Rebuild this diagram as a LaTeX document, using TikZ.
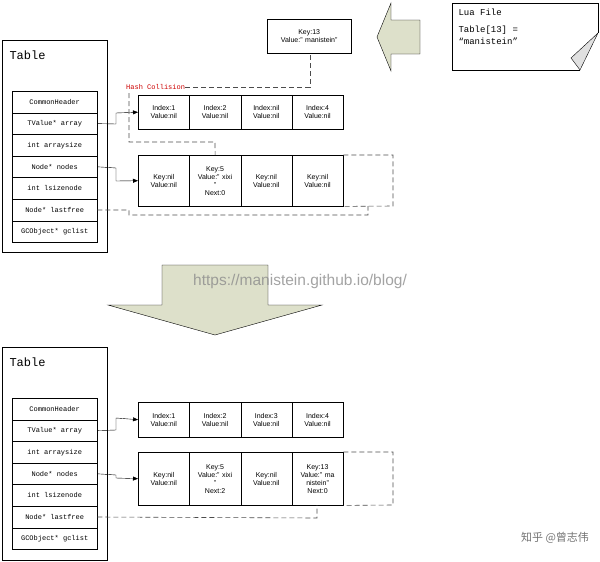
\documentclass[tikz,border=0pt]{standalone}
\usepackage{fontspec}
\setmainfont{Liberation Sans}
\newfontfamily\cjkf{Noto Sans CJK SC}
\newfontfamily\monof{Liberation Mono}
\usetikzlibrary{arrows.meta}
\definecolor{arrfill}{RGB}{221,224,202}
\begin{document}
\begin{tikzpicture}[x=1pt,y=-1pt,
  fld/.style={draw,minimum width=85pt,minimum height=21.6pt,anchor=north west,inner sep=0pt,font=\monof\fontsize{7}{8}\selectfont},
  cell/.style={draw,anchor=north west,inner sep=0pt,align=center,font=\fontsize{7}{8}\selectfont},
  dsh/.style={draw=black!70,dashed,dash pattern=on 5pt off 3pt,semithick},
  con/.style={-{Triangle[length=5pt,width=4pt]}}]
\useasboundingbox (0,0) rectangle (600,562);
% Lua file
\node[anchor=north west,align=left,font=\monof\fontsize{9}{12}\selectfont] (luat) at (455,5) {Lua File\\[5pt]Table[13] =\\ “manistein”};
\draw (452,3) -- (598,3) -- (598,33) (452,3) -- (452,70) -- (580,70);
\draw[fill=black!12] (598,33) -- (571,58) -- (580,70) -- cycle;
% left arrow
\draw[fill=arrfill] (377,37) -- (391,3) -- (391,20) -- (420,20) -- (420,54) -- (391,54) -- (391,71) -- cycle;
% key13 box
\node[cell,minimum width=84pt,minimum height=34pt] (k13) at (267,19) {Key:13\\Value:” manistein”};
% ---------- top
\node[draw,minimum width=105pt,minimum height=212pt,anchor=north west] (t1) at (2,40) {};
\node[anchor=west,font=\monof\fontsize{12}{13}\selectfont] (t1l) at (6,55) {Table};
\foreach \i/\t in {0/CommonHeader,1/TValue* array,2/int arraysize,3/Node* nodes,4/int lsizenode,5/Node* lastfree,6/GCObject* gclist}
  \node[fld] (a\i) at (12,{91+21.6*\i}) {\t};
\foreach \i/\t in {0/{Index:1\\Value:nil},1/{Index:2\\Value:nil},2/{Index:nil\\Value:nil},3/{Index:4\\Value:nil}}
  \node[cell,minimum width=51.25pt,minimum height=34pt] (ar\i) at ({138+51.25*\i},95) {\t};
\foreach \i/\t in {0/{Key:nil\\Value:nil},1/{Key:5\\Value:” xixi\\”\\Next:0},2/{Key:nil\\Value:nil},3/{Key:nil\\Value:nil}}
  \node[cell,minimum width=51.25pt,minimum height=51pt] (nd\i) at ({138+51.25*\i},155) {\t};
\draw[dsh] (nd3.north east) -- (393,155) -- (393,206) -- (nd3.south east);
\draw[con] (a1.east) -- (116,124) -- (116,113) -- (ar0.west);
\draw[con] (a3.east) -- (116,168) -- (116,181) -- (nd0.west);
\draw[dsh] (a5.east) -- (129,210) -- (129,215) -- (368,215) -- (368,206);
\node[anchor=west,text=red!80!black,font=\monof\fontsize{7}{8}\selectfont,inner sep=0pt] (hc) at (126,87) {Hash Collision};
\draw[dsh] (hc.east) -- (310,87) -- (k13.south -| 310,0);
\draw[dsh] (129,93) -- (129,142) -- (215,142) -- (nd1.north);
% down arrow
\draw[fill=arrfill] (162,265) -- (268,265) -- (268,305) -- (322,305) -- (215,335) -- (108,305) -- (162,305) -- cycle;
\node[text=black!45,font=\fontsize{15.5}{16}\selectfont,opacity=0.8] (url) at (300,281) {https://manistein.github.io/blog/};
% ---------- bottom
\node[draw,minimum width=105pt,minimum height=213pt,anchor=north west] (t2) at (2,347) {};
\node[anchor=west,font=\monof\fontsize{12}{13}\selectfont] (t2l) at (6,362) {Table};
\foreach \i/\t in {0/CommonHeader,1/TValue* array,2/int arraysize,3/Node* nodes,4/int lsizenode,5/Node* lastfree,6/GCObject* gclist}
  \node[fld] (b\i) at (12,{398+21.6*\i}) {\t};
\foreach \i/\t in {0/{Index:1\\Value:nil},1/{Index:2\\Value:nil},2/{Index:3\\Value:nil},3/{Index:4\\Value:nil}}
  \node[cell,minimum width=51.25pt,minimum height=35pt] (br\i) at ({138+51.25*\i},402) {\t};
\foreach \i/\t in {0/{Key:nil\\Value:nil},1/{Key:5\\Value:” xixi\\”\\Next:2},2/{Key:nil\\Value:nil},3/{Key:13\\Value:” ma\\nistein”\\Next:0}}
  \node[cell,minimum width=51.25pt,minimum height=53pt] (bn\i) at ({138+51.25*\i},452) {\t};
\draw[dsh] (bn3.north east) -- (393,452) -- (393,505) -- (bn3.south east);
\draw[con] (b1.east) -- (116,430) -- (116,418) -- (br0.west);
\draw[con] (b3.east) -- (116,475) -- (116,478) -- (bn0.west);
\draw[dsh] (b5.east) -- (317,518) -- (317,505);
\node[text=black!55,font=\cjkf\fontsize{11}{12}\selectfont] (wm) at (555,538) {知乎 @曾志伟};
\end{tikzpicture}
\end{document}
